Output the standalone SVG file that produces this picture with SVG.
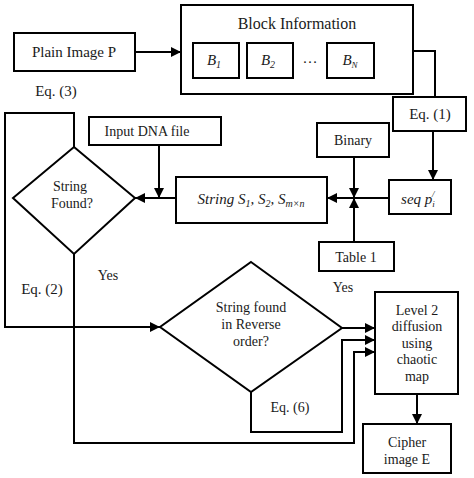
<svg xmlns="http://www.w3.org/2000/svg" width="474" height="478" viewBox="0 0 474 478" font-family="'Liberation Serif', 'DejaVu Serif', serif">
<style>
.box{fill:#fff;stroke:#000;stroke-width:2}
.ln{fill:none;stroke:#000;stroke-width:2}
text{fill:#1a1a1a;text-anchor:middle}
.t{font-size:15px}
.s{font-size:14px}
.m{font-style:italic;font-size:15px}
</style>
<defs>
<marker id="ah" viewBox="0 0 10 10" refX="10" refY="5" markerWidth="10" markerHeight="10" markerUnits="userSpaceOnUse" orient="auto">
<path d="M0,0 L10,5 L0,10 z" fill="#000"/>
</marker>
</defs>
<g id="connectors">
<path class="ln" d="M135,52 H181" marker-end="url(#ah)"/>
<path class="ln" d="M413,51 H435 V97"/>
<path class="ln" d="M433,131 V180" marker-end="url(#ah)"/>
<path class="ln" d="M389,198 H327" marker-end="url(#ah)"/>
<path class="ln" d="M354,157 V198" marker-end="url(#ah)"/>
<path class="ln" d="M354,242 V198" marker-end="url(#ah)"/>
<path class="ln" d="M159,145 V198" marker-end="url(#ah)"/>
<path class="ln" d="M176,198 H135" marker-end="url(#ah)"/>
<path class="ln" d="M74,147 V113 H5 V327 H160" marker-end="url(#ah)"/>
<path class="ln" d="M74,254 V443 H354 V352 H375" marker-end="url(#ah)"/>
<path class="ln" d="M342,328 H375" marker-end="url(#ah)"/>
<path class="ln" d="M251,392 V432 H342 V340 H375" marker-end="url(#ah)"/>
<path class="ln" d="M417,394 V424" marker-end="url(#ah)"/>
</g>
<g id="plain-image">
<rect class="box" x="14" y="33" width="121" height="38"/>
<text class="t" x="74" y="57">Plain Image P</text>
</g>
<g id="block-information">
<rect class="box" x="181" y="5" width="232" height="89"/>
<text class="t" x="297" y="29" style="font-size:16px">Block Information</text>
<rect class="box" x="193" y="43" width="46" height="35"/>
<text class="m" x="214" y="65">B<tspan font-size="10" dy="3">1</tspan></text>
<rect class="box" x="247" y="43" width="46" height="35"/>
<text class="m" x="268" y="65">B<tspan font-size="10" dy="3">2</tspan></text>
<text class="t" x="310" y="63">…</text>
<rect class="box" x="327" y="43" width="47" height="35"/>
<text class="m" x="350" y="65">B<tspan font-size="9" dy="3">N</tspan></text>
</g>
<g id="eq1">
<rect class="box" x="393" y="97" width="73" height="34"/>
<text class="t" x="430" y="119">Eq. (1)</text>
</g>
<g id="seq">
<rect class="box" x="389" y="180" width="62" height="34"/>
<text class="m" x="418" y="204">seq p<tspan font-size="9" dy="3">i</tspan><tspan font-size="9" dx="-3" dy="-10">/</tspan></text>
</g>
<g id="binary">
<rect class="box" x="317" y="123" width="72" height="34"/>
<text class="s" x="353" y="145">Binary</text>
</g>
<g id="table1">
<rect class="box" x="319" y="242" width="75" height="29"/>
<text class="s" x="356" y="262">Table 1</text>
</g>
<g id="string-box">
<rect class="box" x="176" y="177" width="151" height="46"/>
<text class="m" x="251" y="204">String S<tspan font-size="10" dy="3">1</tspan><tspan dy="-3">, S</tspan><tspan font-size="10" dy="3">2</tspan><tspan dy="-3">, S</tspan><tspan font-size="10" dy="3">m×n</tspan></text>
</g>
<g id="input-dna">
<rect class="box" x="89" y="117" width="132" height="28"/>
<text class="s" x="147" y="136">Input DNA file</text>
</g>
<g id="string-found">
<path class="box" d="M74,147 L135,198 L74,254 L13,198 Z"/>
<text class="s" x="70" y="191">String</text>
<text class="s" x="72" y="208">Found?</text>
</g>
<g id="reverse">
<path class="box" d="M251,262 L342,328 L251,392 L160,327 Z"/>
<text class="s" x="251" y="312">String found</text>
<text class="s" x="251" y="329">in Reverse</text>
<text class="s" x="251" y="346">order?</text>
</g>
<g id="level2">
<rect class="box" x="375" y="292" width="83" height="102"/>
<text class="s" x="417" y="315">Level 2</text>
<text class="s" x="417" y="331">diffusion</text>
<text class="s" x="417" y="348">using</text>
<text class="s" x="417" y="364">chaotic</text>
<text class="s" x="417" y="381">map</text>
</g>
<g id="cipher">
<rect class="box" x="363" y="424" width="88" height="49"/>
<text class="s" x="407" y="447">Cipher</text>
<text class="s" x="407" y="464">image E</text>
</g>
<g id="labels">
<text class="t" x="56" y="96">Eq. (3)</text>
<text class="t" x="42" y="294">Eq. (2)</text>
<text class="s" x="108" y="280">Yes</text>
<text class="s" x="343" y="292">Yes</text>
<text class="s" x="290" y="412">Eq. (6)</text>
</g>
</svg>
